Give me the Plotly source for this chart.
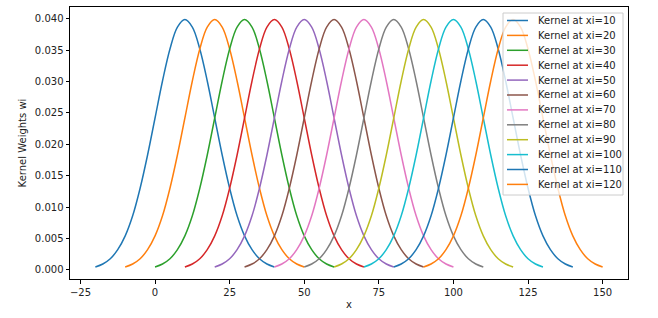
import plotly.graph_objects as go

# Kernel centres (xi) and the kernel profile
centers = [10, 20, 30, 40, 50, 60, 70, 80, 90, 100, 110, 120]
offsets = [-30, -27.5, -25, -22.5, -20, -17.5, -15, -12.5, -10, -7.5, -5, -2.5, 0,
           2.5, 5, 7.5, 10, 12.5, 15, 17.5, 20, 22.5, 25, 27.5, 30]
weights = [0.00044, 0.00091, 0.00175, 0.0032, 0.0054, 0.0086, 0.0130, 0.0183, 0.0242,
           0.0301, 0.0352, 0.0387, 0.0399, 0.0387, 0.0352, 0.0301, 0.0242, 0.0183,
           0.0130, 0.0086, 0.0054, 0.0032, 0.00175, 0.00091, 0.00044]
colors = ["#1f77b4", "#ff7f0e", "#2ca02c", "#d62728", "#9467bd", "#8c564b",
          "#e377c2", "#7f7f7f", "#bcbd22", "#17becf", "#1f77b4", "#ff7f0e"]
x_ticks = [-25, 0, 25, 50, 75, 100, 125, 150]
y_ticks = [0.000, 0.005, 0.010, 0.015, 0.020, 0.025, 0.030, 0.035, 0.040]

W, H = 658, 318
ML, MR, MT, MB = 70, 30, 7, 39
PW, PH = W - ML - MR, H - MT - MB


def px(xpix):
    return (xpix - ML) / PW


def py(ypix):
    return (H - MB - ypix) / PH


fig = go.Figure()
for c, col in zip(centers, colors):
    fig.add_trace(go.Scatter(
        x=[c + o for o in offsets], y=weights, mode="lines",
        line=dict(color=col, width=1.5, shape="spline"),
        name=f"Kernel at xi={c}", showlegend=False))

font = dict(family="DejaVu Sans", size=10, color="#222")

# Matplotlib-style legend (compact entries)
shapes = [dict(type="rect", xref="paper", yref="paper",
               x0=px(503), x1=px(623), y0=py(195), y1=py(13),
               fillcolor="rgba(255,255,255,0.8)", line=dict(color="#cccccc", width=1),
               layer="above")]
annotations = []
step = 14.9
for i, (c, col) in enumerate(zip(centers, colors)):
    yc = 20.5 + step * i
    shapes.append(dict(type="line", xref="paper", yref="paper",
                       x0=px(507), x1=px(528), y0=py(yc), y1=py(yc),
                       line=dict(color=col, width=1.5), layer="above"))
    annotations.append(dict(xref="paper", yref="paper", x=px(535.5), y=py(yc),
                            xanchor="left", yanchor="middle", showarrow=False,
                            text=f"Kernel at xi={c}", font=font))

axis_common = dict(showline=True, mirror=True, linecolor="black", linewidth=1,
                   ticks="outside", ticklen=3.5, tickcolor="black", showgrid=False,
                   zeroline=False, tickfont=font)
fig.update_layout(
    width=W, height=H,
    margin=dict(l=ML, r=MR, t=MT, b=MB),
    plot_bgcolor="white", paper_bgcolor="white",
    font=font, showlegend=False,
    shapes=shapes, annotations=annotations,
    xaxis=dict(range=[-28.5, 158.5], tickvals=x_ticks,
               ticktext=[str(t).replace("-", "\u2212") for t in x_ticks],
               title=dict(text="x", font=font, standoff=4), **axis_common),
    yaxis=dict(range=[-0.00148, 0.0419], tickvals=y_ticks,
               ticktext=[f"{t:.3f}" for t in y_ticks],
               title=dict(text="Kernel Weights wi", font=font, standoff=6), **axis_common),
)
fig.write_html("out.html")
